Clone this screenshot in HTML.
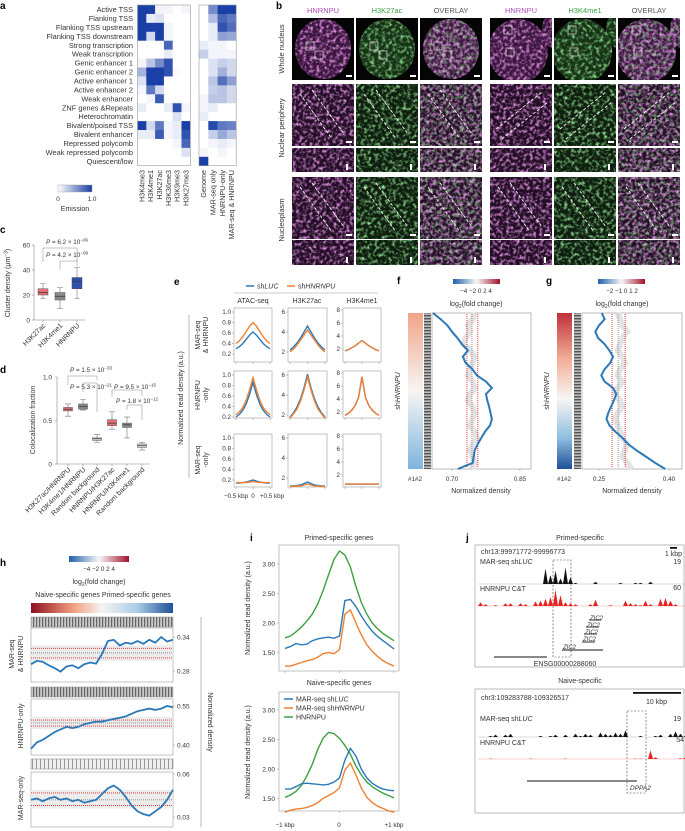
<!DOCTYPE html>
<html><head><meta charset="utf-8"><style>
html,body{margin:0;padding:0;background:#fff}
svg{display:block;font-family:"Liberation Sans",sans-serif}
text{fill:#333}
.pl{font-weight:bold;font-size:10px;fill:#000}
.t{font-size:7px}
.ts{font-size:6.3px}
</style></head><body>
<svg id="fig" width="685" height="831" viewBox="0 0 685 831" xmlns="http://www.w3.org/2000/svg">
<defs>
<linearGradient id="gEm" x1="0" x2="1"><stop offset="0" stop-color="#fff"/><stop offset="1" stop-color="#1a3fa6"/></linearGradient>
<linearGradient id="gFC" x1="0" x2="1"><stop offset="0" stop-color="#1f5fa8"/><stop offset="0.5" stop-color="#f7f7f7"/><stop offset="1" stop-color="#a3122a"/></linearGradient>
<linearGradient id="gH" x1="0" x2="1"><stop offset="0" stop-color="#8e1020"/><stop offset="0.3" stop-color="#f0a080"/><stop offset="0.5" stop-color="#f7f4f2"/><stop offset="0.75" stop-color="#a8cce4"/><stop offset="1" stop-color="#1f4f98"/></linearGradient>
<linearGradient id="gF" x1="0" y1="0" x2="0" y2="1"><stop offset="0" stop-color="#f2a488"/><stop offset="0.5" stop-color="#f7f5f4"/><stop offset="1" stop-color="#7fb4dc"/></linearGradient>
<linearGradient id="gG" x1="0" y1="0" x2="0" y2="1"><stop offset="0" stop-color="#c0303a"/><stop offset="0.3" stop-color="#f2b09a"/><stop offset="0.55" stop-color="#f7f5f4"/><stop offset="0.8" stop-color="#8fbfe0"/><stop offset="1" stop-color="#1f4f98"/></linearGradient>
<pattern id="bc" width="3" height="3" patternUnits="userSpaceOnUse"><rect width="3" height="3" fill="#bbb"/><rect width="3" height="1.4" fill="#555"/></pattern>
<pattern id="bcv" width="3" height="3" patternUnits="userSpaceOnUse"><rect width="3" height="3" fill="#c8c8c8"/><rect width="1.2" height="3" fill="#666"/></pattern>
<pattern id="bcv2" width="4" height="3" patternUnits="userSpaceOnUse"><rect width="4" height="3" fill="#eee"/><rect width="1" height="3" fill="#999"/></pattern>
<filter id="fm" x="0" y="0" width="1" height="1"><feTurbulence type="fractalNoise" baseFrequency="0.3" numOctaves="2" seed="2" result="n"/><feColorMatrix in="n" type="matrix" values="0 0 0 0 0.78 0 0 0 0 0.3 0 0 0 0 0.8 2.6 0 0 0 -1.15" result="c"/><feComposite in="c" in2="SourceGraphic" operator="in"/></filter>
<filter id="fg" x="0" y="0" width="1" height="1"><feTurbulence type="fractalNoise" baseFrequency="0.28" numOctaves="2" seed="7" result="n"/><feColorMatrix in="n" type="matrix" values="0 0 0 0 0.3 0 0 0 0 0.78 0 0 0 0 0.3 2.6 0 0 0 -1.2" result="c"/><feComposite in="c" in2="SourceGraphic" operator="in"/></filter>
</defs>

<text class="pl" x="0" y="9">a</text>
<text class="pl" x="276" y="9">b</text>
<text class="pl" x="0" y="233">c</text>
<text class="pl" x="0" y="373">d</text>
<text class="pl" x="174" y="285">e</text>
<text class="pl" x="397" y="284">f</text>
<text class="pl" x="546" y="284">g</text>
<text class="pl" x="0" y="566">h</text>
<text class="pl" x="250" y="541">i</text>
<text class="pl" x="466" y="541">j</text>

<g id="pa">
<rect x="58" y="185" width="34" height="7" fill="url(#gEm)" stroke="#999" stroke-width="0.4"/>
<text class="ts" x="58" y="201" text-anchor="middle">0</text>
<text class="ts" x="92" y="201" text-anchor="middle">1.0</text>
<text class="t" x="75" y="211" text-anchor="middle">Emission</text>
</g>
<g id="pb"></g>
<g id="pc">
<text class="t" transform="translate(10,283) rotate(-90)" text-anchor="middle">Cluster density (μm<tspan dy="-2.5" font-size="5">−3</tspan><tspan dy="2.5">)</tspan></text>
<text class="ts" x="46" y="244"><tspan font-style="italic">P</tspan> = 6.2 × 10<tspan dy="-2.5" font-size="4.5">−06</tspan></text>
<text class="ts" x="46" y="257"><tspan font-style="italic">P</tspan> = 4.2 × 10<tspan dy="-2.5" font-size="4.5">−09</tspan></text>
<path d="M43,262V248H77V262M60,270V261H77V266" fill="none" stroke="#888" stroke-width="0.5"/>
</g>
<g id="pd">
<text class="t" transform="translate(35,420) rotate(-90)" text-anchor="middle">Colocalization fraction</text>
<text class="ts" x="70" y="372"><tspan font-style="italic">P</tspan> = 1.5 × 10<tspan dy="-2.5" font-size="4.5">−33</tspan></text>
<text class="ts" x="70" y="389"><tspan font-style="italic">P</tspan> = 5.3 × 10<tspan dy="-2.5" font-size="4.5">−21</tspan></text>
<text class="ts" x="114" y="389"><tspan font-style="italic">P</tspan> = 9.5 × 10<tspan dy="-2.5" font-size="4.5">−15</tspan></text>
<text class="ts" x="116" y="403"><tspan font-style="italic">P</tspan> = 1.8 × 10<tspan dy="-2.5" font-size="4.5">−12</tspan></text>
<path d="M68,385V376H97V380M83,392V383H97V412M112,397V390H142V396M127,410V405H142V420" fill="none" stroke="#888" stroke-width="0.5"/>
</g>
<g id="pe">
<line x1="246" y1="286" x2="254" y2="286" stroke="#2a78b8" stroke-width="1.5"/>
<text class="t" x="257" y="288.5">sh<tspan font-style="italic">LUC</tspan></text>
<line x1="287" y1="286" x2="295" y2="286" stroke="#f08030" stroke-width="1.5"/>
<text class="t" x="298" y="288.5">sh<tspan font-style="italic">HNRNPU</tspan></text>
<line x1="234" y1="293" x2="378" y2="293" stroke="#bbb" stroke-width="0.8"/>
<text class="t" x="253" y="303" text-anchor="middle">ATAC-seq</text>
<text class="t" x="307" y="303" text-anchor="middle">H3K27ac</text>
<text class="t" x="362" y="303" text-anchor="middle">H3K4me1</text>
<text class="t" transform="translate(183,398) rotate(-90)" text-anchor="middle">Normalized read density (a.u.)</text>
<line x1="189" y1="315" x2="189" y2="478" stroke="#888" stroke-width="0.6"/>
<text class="t" transform="translate(200,335) rotate(-90)" text-anchor="middle">MAR-seq</text>
<text class="t" transform="translate(208,335) rotate(-90)" text-anchor="middle">&amp; HNRNPU</text>
<text class="t" transform="translate(200,395) rotate(-90)" text-anchor="middle">HNRNPU</text>
<text class="t" transform="translate(208,395) rotate(-90)" text-anchor="middle">-only</text>
<text class="t" transform="translate(200,460) rotate(-90)" text-anchor="middle">MAR-seq</text>
<text class="t" transform="translate(208,460) rotate(-90)" text-anchor="middle">-only</text>
<text class="ts" x="236" y="498" text-anchor="middle">−0.5 kbp</text>
<text class="ts" x="253" y="498" text-anchor="middle">0</text>
<text class="ts" x="272" y="498" text-anchor="middle">+0.5 kbp</text>
</g>
<g id="pf">
<rect x="453" y="279" width="47" height="5" fill="url(#gFC)"/>
<text class="ts" x="476" y="293" text-anchor="middle">−4  −2  0  2  4</text>
<text class="t" x="476" y="306" text-anchor="middle">log<tspan dy="2" font-size="5">2</tspan><tspan dy="-2">(fold change)</tspan></text>
<rect x="408" y="313" width="15" height="156" fill="url(#gF)"/>
<rect x="424" y="313" width="7" height="156" fill="url(#bc)"/>
<rect x="432" y="313" width="99" height="156" fill="#fff" stroke="#aaa" stroke-width="0.8"/>
<text class="t" transform="translate(400,391) rotate(-90)" text-anchor="middle">sh<tspan font-style="italic">HNRNPU</tspan></text>
<text class="ts" x="415" y="481" text-anchor="middle">#1#2</text>
<text class="ts" x="452" y="481" text-anchor="middle">0.70</text>
<text class="ts" x="520" y="481" text-anchor="middle">0.85</text>
<text class="t" x="481" y="493" text-anchor="middle">Normalized density</text>
</g>
<g id="pg">
<rect x="598" y="279" width="47" height="5" fill="url(#gFC)"/>
<text class="ts" x="622" y="293" text-anchor="middle">−2  −1  0  1  2</text>
<text class="t" x="622" y="306" text-anchor="middle">log<tspan dy="2" font-size="5">2</tspan><tspan dy="-2">(fold change)</tspan></text>
<rect x="557" y="313" width="15" height="156" fill="url(#gG)"/>
<rect x="574" y="313" width="7" height="156" fill="url(#bc)"/>
<rect x="582" y="313" width="100" height="156" fill="#fff" stroke="#aaa" stroke-width="0.8"/>
<text class="t" transform="translate(549,391) rotate(-90)" text-anchor="middle">sh<tspan font-style="italic">HNRNPU</tspan></text>
<text class="ts" x="564" y="481" text-anchor="middle">#1#2</text>
<text class="ts" x="599" y="481" text-anchor="middle">0.25</text>
<text class="ts" x="669" y="481" text-anchor="middle">0.40</text>
<text class="t" x="632" y="493" text-anchor="middle">Normalized density</text>
</g>
<g id="ph">
<rect x="69" y="556" width="60" height="6" fill="url(#gFC)"/>
<text class="ts" x="99" y="571" text-anchor="middle">−4   −2   0   2   4</text>
<text class="t" x="99" y="584" text-anchor="middle">log<tspan dy="2" font-size="5">2</tspan><tspan dy="-2">(fold change)</tspan></text>
<text class="t" x="103" y="597" text-anchor="middle">Naive-specific genes Primed-specific genes</text>
<rect x="31" y="603" width="142" height="10" fill="url(#gH)"/>
<line x1="201" y1="617" x2="201" y2="827" stroke="#aaa" stroke-width="0.8"/>
<text class="t" transform="translate(208,722) rotate(90)" text-anchor="middle">Normalized density</text>
<text class="t" transform="translate(14,654) rotate(-90)" text-anchor="middle">MAR-seq</text>
<text class="t" transform="translate(23,654) rotate(-90)" text-anchor="middle">&amp; HNRNPU</text>
<text class="t" transform="translate(23,726) rotate(-90)" text-anchor="middle">HNRNPU-only</text>
<text class="t" transform="translate(23,798) rotate(-90)" text-anchor="middle">MAR-seq-only</text>
</g>
<g id="pi">
<text class="t" x="339" y="540" text-anchor="middle">Primed-specific genes</text>
<text class="t" x="339" y="685" text-anchor="middle">Naive-specific genes</text>
<text class="t" transform="translate(250,608) rotate(-90)" text-anchor="middle">Normalized read density (a.u.)</text>
<text class="t" transform="translate(250,752) rotate(-90)" text-anchor="middle">Normalized read density (a.u.)</text>
<text class="ts" x="285" y="827" text-anchor="middle">−1 kbp</text>
<text class="ts" x="339" y="827" text-anchor="middle">0</text>
<text class="ts" x="394" y="827" text-anchor="middle">+1 kbp</text>
<line x1="284" y1="699" x2="293" y2="699" stroke="#2a78b8" stroke-width="1.5"/>
<text class="t" x="296" y="701.5">MAR-seq sh<tspan font-style="italic">LUC</tspan></text>
<line x1="284" y1="708" x2="293" y2="708" stroke="#f08030" stroke-width="1.5"/>
<text class="t" x="296" y="710.5">MAR-seq sh<tspan font-style="italic">HNRNPU</tspan></text>
<line x1="284" y1="717" x2="293" y2="717" stroke="#3aa040" stroke-width="1.5"/>
<text class="t" x="296" y="719.5">HNRNPU</text>
</g>
<g id="pj">
<text class="t" x="580" y="540" text-anchor="middle">Primed-specific</text>
<rect x="475" y="545" width="209" height="122" fill="none" stroke="#aaa" stroke-width="0.8"/>
<text class="t" x="481" y="554">chr13:99971772-99996773</text>
<rect x="670" y="547" width="7" height="1.8" fill="#111"/>
<text class="t" x="682" y="556" text-anchor="end">1 kbp</text>
<text class="t" x="480" y="564">MAR-seq sh<tspan font-style="italic">LUC</tspan></text>
<text class="t" x="681" y="564" text-anchor="end">19</text>
<text class="t" x="480" y="591">HNRNPU C&amp;T</text>
<text class="t" x="681" y="590" text-anchor="end">60</text>
<rect x="553" y="560" width="18" height="97" fill="none" stroke="#444" stroke-width="0.6" stroke-dasharray="2,1.5"/>
<g stroke="#111" stroke-width="0.9">
<line x1="494" y1="657" x2="547" y2="657"/><line x1="562" y1="650" x2="603" y2="650"/>
<line x1="582" y1="642" x2="595" y2="642"/><line x1="584" y1="634" x2="597" y2="634"/><line x1="586" y1="627" x2="599" y2="627"/><line x1="589" y1="620" x2="601" y2="620"/>
</g>
<g class="ts" font-style="italic">
<text x="590" y="620" font-size="6">ZIC2</text><text x="587" y="627" font-size="6">ZIC2</text><text x="585" y="634" font-size="6">ZIC2</text><text x="583" y="641" font-size="6">ZIC2</text><text x="563" y="649" font-size="6">ZIC2</text>
</g>
<text class="t" x="565" y="666" text-anchor="middle">ENSG00000288060</text>
<text class="t" x="580" y="683" text-anchor="middle">Naive-specific</text>
<rect x="475" y="689" width="209" height="124" fill="none" stroke="#aaa" stroke-width="0.8"/>
<text class="t" x="481" y="700">chr3:109283788-109326517</text>
<rect x="633" y="692" width="48" height="1.8" fill="#111"/>
<text class="t" x="646" y="704">10 kbp</text>
<text class="t" x="480" y="721">MAR-seq sh<tspan font-style="italic">LUC</tspan></text>
<text class="t" x="681" y="721" text-anchor="end">19</text>
<text class="t" x="480" y="745">HNRNPU C&amp;T</text>
<text class="t" x="684" y="742" text-anchor="end">54</text>
<rect x="627" y="711" width="19" height="82" fill="none" stroke="#444" stroke-width="0.6" stroke-dasharray="2,1.5"/>
<line x1="527" y1="781" x2="637" y2="781" stroke="#111" stroke-width="0.9"/>
<text x="630" y="790" font-size="6.5" font-style="italic">DPPA2</text>
</g>
</svg>
<script>
const NS='http://www.w3.org/2000/svg';
function mk(tag, attrs, parent){const e=document.createElementNS(NS,tag);for(const k in attrs)e.setAttribute(k,attrs[k]);parent.appendChild(e);return e;}
function poly(xs,ys){return xs.map((x,i)=>(i?'L':'M')+x.toFixed(1)+','+ys[i].toFixed(1)).join('');}

/* ---------- panel a data ---------- */
const aStates=['Active TSS','Flanking TSS','Flanking TSS upstream','Flanking TSS downstream','Strong transcription','Weak transcription','Genic enhancer 1','Genic enhancer 2','Active enhancer 1','Active enhancer 2','Weak enhancer','ZNF genes &Repeats','Heterochromatin','Bivalent/poised TSS','Bivalent enhancer','Repressed polycomb','Weak repressed polycomb','Quiescent/low'];
const aMarks=['H3K4me3','H3K4me1','H3K27ac','H3K36me3','H3K9me3','H3K27me3'];
const aGroups=['Genome','MAR-seq only','HNRNPU-only','MAR-seq & HNRNPU'];
const aMarkVals=[[1,1,.05,.05,0,.05],[1,.1,.15,0,0,0],[1,1,1,.05,0,0],[1,.2,1,.05,0,0],[0,0,0,.8,0,0],[0,0,0,.1,0,0],[.05,.3,.6,.9,0,0],[.4,1,1,.9,.02,0],[.15,1,1,0,0,0],[.05,.7,.2,0,0,0],[0,.05,.85,0,0,0],[.1,0,0,.1,.9,.05],[0,0,0,0,.15,0],[1,.2,.7,.05,.1,1],[.1,.1,.85,.05,.1,.9],[0,0,0,0,.05,.8],[0,0,0,0,0,.15],[0,0,0,0,0,0]];
const aGroupVals=[[0,.6,1,1],[0,.35,.8,.7],[0,.1,.9,.75],[0,.1,.5,.45],[.1,.05,.05,0],[.25,.05,.05,.05],[0,.15,.25,.2],[0,.15,.4,.2],[0,.3,.75,.5],[0,.25,.3,.2],[.05,.3,.3,.2],[.05,.1,0,0],[.1,0,0,0],[0,.95,.7,.65],[0,.25,.45,.3],[0,.05,.1,.05],[.05,0,.05,0],[1,0,0,0]];
/* ---------- panel c/d data ---------- */
const cCats=['H3K27ac','H3K4me1','HNRNPU'];
const cStats=[[17,20,22,25,29],[9,16,19,22,26],[17,25,31,34,42]];
const dCats=['H3K27ac/HNRNPU','H3K4me1/HNRNPU','Random background','HNRNPU/H3K27ac','HNRNPU/H3K4me1','Random background'];
const dStats=[[0.55,0.61,0.63,0.65,0.69],[0.62,0.63,0.66,0.69,0.74],[0.25,0.27,0.29,0.30,0.34],[0.40,0.44,0.47,0.51,0.60],[0.30,0.42,0.45,0.47,0.54],[0.16,0.19,0.21,0.23,0.25]];
/* ---------- panel e data (11 points, -0.5..+0.5 kbp) ---------- */
const eLucAtac=[[0.30,0.34,0.40,0.48,0.56,0.62,0.56,0.48,0.40,0.34,0.30],[0.20,0.25,0.33,0.45,0.63,0.86,0.63,0.45,0.33,0.25,0.20],[0.14,0.14,0.15,0.16,0.18,0.20,0.18,0.16,0.15,0.14,0.14]];
const eKdAtac=[[0.40,0.45,0.53,0.63,0.73,0.80,0.73,0.63,0.53,0.45,0.40],[0.24,0.30,0.38,0.52,0.72,0.95,0.72,0.52,0.38,0.30,0.24],[0.15,0.15,0.15,0.15,0.16,0.17,0.16,0.15,0.15,0.15,0.15]];
const eLucK27=[[2.2,2.5,2.9,3.4,4.0,4.6,4.0,3.4,2.9,2.5,2.2],[1.8,2.2,2.8,3.6,4.7,6.1,4.7,3.6,2.8,2.2,1.8],[1.2,1.2,1.25,1.3,1.45,1.6,1.45,1.3,1.25,1.2,1.2]];
const eKdK27=[[2.0,2.3,2.7,3.2,3.7,4.2,3.7,3.2,2.7,2.3,2.0],[1.7,2.1,2.6,3.4,4.5,5.8,4.5,3.4,2.6,2.1,1.7],[1.15,1.15,1.2,1.2,1.3,1.4,1.3,1.2,1.2,1.15,1.15]];
const eLucK4=[[1.7,1.9,2.2,2.5,2.9,3.3,2.9,2.5,2.2,1.9,1.7],[1.5,1.8,2.3,3.0,4.3,7.4,4.3,3.0,2.3,1.8,1.5],[0.6,0.6,0.6,0.6,0.6,0.6,0.6,0.6,0.6,0.6,0.6]];
const eKdK4=[[1.7,1.9,2.2,2.5,2.9,3.3,2.9,2.5,2.2,1.9,1.7],[1.5,1.8,2.3,3.0,4.3,7.4,4.3,3.0,2.3,1.8,1.5],[0.6,0.6,0.6,0.6,0.6,0.6,0.6,0.6,0.6,0.6,0.6]];
const eTicks=[[1.0,0.8,0.6,0.4,0.2],[6,4,2],[8,6,4,2]];
/* ---------- panel f/g data (top→bottom) ---------- */
const fBlue=[0.658,0.675,0.69,0.70,0.712,0.722,0.735,0.724,0.73,0.745,0.755,0.775,0.788,0.775,0.778,0.782,0.785,0.788,0.784,0.773,0.765,0.757,0.75,0.748,0.746,0.713];
const fGrey=[0.75,0.745,0.735,0.74,0.73,0.725,0.74,0.75,0.745,0.74,0.735,0.745,0.75,0.74,0.735,0.745,0.75,0.745,0.74,0.75,0.755,0.745,0.74,0.745,0.75,0.745];
const fRefs=[0.733,0.744,0.757];
const gBlue=[0.256,0.262,0.250,0.242,0.248,0.262,0.272,0.280,0.274,0.262,0.255,0.262,0.280,0.287,0.282,0.276,0.270,0.266,0.272,0.285,0.300,0.312,0.330,0.350,0.370,0.392];
const gGrey=[0.29,0.295,0.30,0.31,0.30,0.295,0.29,0.30,0.305,0.295,0.29,0.30,0.29,0.285,0.295,0.30,0.29,0.285,0.29,0.295,0.30,0.31,0.305,0.30,0.31,0.32];
const gRefs=[0.278,0.291,0.306];
/* ---------- panel h data (left→right) ---------- */
const h1Blue=[0.292,0.298,0.296,0.29,0.285,0.279,0.288,0.29,0.285,0.292,0.295,0.293,0.31,0.333,0.335,0.325,0.33,0.328,0.333,0.328,0.335,0.33,0.34,0.332,0.335];
const h2Blue=[0.385,0.41,0.42,0.435,0.45,0.46,0.47,0.465,0.47,0.48,0.485,0.49,0.49,0.495,0.50,0.505,0.51,0.52,0.53,0.535,0.54,0.535,0.54,0.55,0.545];
const h3Blue=[0.042,0.043,0.041,0.043,0.044,0.042,0.043,0.041,0.042,0.040,0.041,0.042,0.046,0.050,0.052,0.049,0.044,0.038,0.034,0.032,0.031,0.034,0.037,0.042,0.049];
const hRefs=[[0.303,0.312,0.32],[0.473,0.485,0.496],[0.038,0.042,0.0468]];
const hTicks=[[0.34,0.28],[0.55,0.40],[0.06,0.03]];
/* ---------- panel i data (21 points, -1..+1 kbp) ---------- */
const iTopLuc=[1.57,1.60,1.65,1.63,1.64,1.70,1.73,1.75,1.76,1.74,1.78,2.38,2.40,2.28,2.12,1.98,1.86,1.77,1.70,1.63,1.56];
const iTopKd=[1.27,1.27,1.30,1.33,1.36,1.38,1.42,1.48,1.50,1.48,1.55,2.15,2.22,2.0,1.8,1.63,1.52,1.43,1.36,1.31,1.27];
const iTopHn=[1.75,1.78,1.85,1.93,2.03,2.15,2.32,2.55,2.82,3.08,3.22,3.15,2.95,2.62,2.35,2.15,2.0,1.9,1.82,1.76,1.70];
const iBotLuc=[1.66,1.66,1.70,1.75,1.76,1.75,1.74,1.73,1.74,1.78,1.85,2.15,2.35,2.22,2.00,1.85,1.76,1.70,1.66,1.64,1.63];
const iBotKd=[1.27,1.30,1.32,1.33,1.35,1.38,1.43,1.50,1.55,1.60,1.68,1.98,2.10,1.90,1.68,1.52,1.43,1.37,1.33,1.29,1.27];
const iBotHn=[1.52,1.56,1.62,1.72,1.88,2.08,2.33,2.52,2.62,2.60,2.52,2.40,2.25,2.05,1.90,1.78,1.70,1.64,1.59,1.55,1.51];
const iTicks=['3.00','2.50','2.00','1.50'];
/* ---------- panel j data (42 bins) ---------- */
const jMar1=[0,0,0,0,0,0,0,0,0,0,0,0,0,14,8,12,5,15,6,1,0,0,0,2,0,0,0,0,1,0,0,1,1,0,2,0,0,0,0,0,0,0];
const jCT1=[12,6,0,3,0,9,9,0,9,6,0,15,18,24,30,54,36,12,9,6,0,0,6,21,0,0,3,0,0,18,9,6,3,18,6,0,24,27,18,6,0,0];
const jMar2=[0,0,1,2,0,2,3,0,0,0,0,0,1,0,1,2,0,2,0,3,1,3,2,0,4,3,2,4,3,6,0,0,1,0,0,1,2,0,3,5,3,1];
const jCT2=[0,0,1,0,0,0,0,0,0,0,1,0,0,0,0,0,0,1,0,0,0,0,0,0,0,0,0,0,0,0,0,1,1,0,25,5,0,0,0,0,2,5];

const BLUE='#2a78b8',ORANGE='#f08030',GREEN='#3aa040',RED='#e02020';

/* ===== panel a ===== */
(function(){
const g=document.getElementById('pa');
const top=5,rh=8.93,lx=137.5,lw=8.8,rx=199,rw=9.3;
function col(v){const r=Math.round(255+(26-255)*v),gg=Math.round(255+(63-255)*v),b=Math.round(255+(166-255)*v);return `rgb(${r},${gg},${b})`;}
aStates.forEach((s,i)=>{
  const t=mk('text',{x:133,y:top+(i+0.5)*rh+2.6,'text-anchor':'end','font-size':'7.4'},g);
  t.textContent=s;
  
  
  aMarkVals[i].forEach((v,j)=>{
    const c=mk('rect',{x:lx+j*lw,y:top+i*rh,width:lw+0.3,height:rh+0.3,fill:col(v)},g);
    
    
  });
  aGroupVals[i].forEach((v,j)=>{
    const c=mk('rect',{x:rx+j*rw,y:top+i*rh,width:rw+0.3,height:rh+0.3,fill:col(v)},g);
    
    
  });
});
const f1=mk('rect',{x:lx,y:top,width:lw*6,height:rh*18,fill:'none',stroke:'#999','stroke-width':0.6},g);


const f2=mk('rect',{x:rx,y:top,width:rw*4,height:rh*18,fill:'none',stroke:'#999','stroke-width':0.6},g);


aMarks.forEach((m,j)=>{
  const x=lx+(j+0.5)*lw+2.5;
  const t=mk('text',{transform:`translate(${x},170) rotate(-90)`,'text-anchor':'end','font-size':'7.2'},g);
  t.textContent=m;
  
  
});
aGroups.forEach((m,j)=>{
  const x=rx+(j+0.5)*rw+2.5;
  const t=mk('text',{transform:`translate(${x},170) rotate(-90)`,'text-anchor':'end','font-size':'7.2'},g);
  t.textContent=m;
  
  
});
})();

/* ===== panel b ===== */
(function(){
const g=document.getElementById('pb');
const cx=[292,356,420,490,554,618],cw=62;
const rows=[[18,62],[84,62],[148,24],[177,62],[240,25]];
const heads=['HNRNPU','H3K27ac','OVERLAY','HNRNPU','H3K4me1','OVERLAY'];
const hc=['#b050b8','#3aa048','#555','#b050b8','#3aa048','#555'];
heads.forEach((h,c)=>{
  const t=mk('text',{x:cx[c]+31,y:13,'text-anchor':'middle','font-size':'7.5',style:'fill:'+hc[c]},g);
  t.textContent=h;
  
  
});
[['Whole nucleus',49],['Nuclear periphery',128],['Nucleoplasm',220]].forEach(r=>{
  const t=mk('text',{transform:`translate(284,${r[1]}) rotate(-90)`,'text-anchor':'middle','font-size':'7.5'},g);
  t.textContent=r[0];
  
  
});
const defs=document.querySelector('defs');
let k=0;
cx.forEach((x,c)=>{
  rows.forEach((r,ri)=>{
    const [y,h]=r;
    const cp=mk('clipPath',{id:'cp'+k},defs);
    mk('rect',{x:x,y:y,width:cw,height:h},cp);
    const gg=mk('g',{'clip-path':`url(#cp${k})`},g);
    
    
    k++;
    mk('rect',{x:x,y:y,width:cw,height:h,fill:'#050505'},gg);
    const type=c%3;
    const shapes=[];
    if(ri===0){
      if(c<3){shapes.push(['ellipse',{cx:x+31,cy:y+31,rx:28,ry:30}]);}
      else{shapes.push(['ellipse',{cx:x+28,cy:y+33,rx:30,ry:32}]);shapes.push(['ellipse',{cx:x+64,cy:y+12,rx:12,ry:18}]);}
    } else shapes.push(['rect',{x:x,y:y,width:cw,height:h}]);
    const dim=ri===0?0.55:0.3;
    shapes.forEach(s=>{
      const bm=Object.assign({},s[1]);
      if(type===0||type===2){mk(s[0],Object.assign({fill:'#6a2470','fill-opacity':dim},bm),gg);mk(s[0],Object.assign({fill:'#fff',filter:'url(#fm)'},bm),gg);}
      if(type===1){mk(s[0],Object.assign({fill:'#245a24','fill-opacity':dim},bm),gg);}
      if(type>=1){mk(s[0],Object.assign({fill:'#fff',filter:'url(#fg)',opacity:type===2?0.7:1},bm),gg);}
    });
    if(ri===0){
      const sq=c<3?[[x+14,y+24],[x+23,y+33]]:[[x+14,y+8],[x+16,y+30]];
      sq.forEach(p=>mk('rect',{x:p[0],y:p[1],width:8,height:8,fill:'none',stroke:'#ddd','stroke-width':0.7},gg));
    }
    if(ri===1||ri===3){
      const d=(c<3||ri===3)?[[x+8,y+10,x+40,y+55],[x+20,y+6,x+52,y+50]]:[[x+6,y+45,x+52,y+8],[x+12,y+55,x+58,y+18]];
      d.forEach(l=>mk('line',{x1:l[0],y1:l[1],x2:l[2],y2:l[3],stroke:'#fff','stroke-width':0.9,'stroke-dasharray':'3,2'},gg));
    }
    mk('rect',{x:x+cw-8,y:y+h-(ri===2||ri===4?8:5),width:ri===2||ri===4?2:6,height:ri===2||ri===4?6:2,fill:'#fff'},gg);
  });
});
})();

/* ===== panel c ===== */
(function(){
const g=document.getElementById('pc');
const yC=v=>320-v*1.25, xs=[43,60,77], fills=['#e8707a','#8a8a8a','#3050b0'];
const ax=mk('path',{d:'M34,245V320H85',fill:'none',stroke:'#888','stroke-width':0.6},g);


[0,20,40,60].forEach(t=>{
  mk('line',{x1:32,x2:34,y1:yC(t),y2:yC(t),stroke:'#888','stroke-width':0.6},g);
  const tx=mk('text',{x:30,y:yC(t)+2.3,'text-anchor':'end','font-size':'6.5'},g);
  tx.textContent=t;
  
  
});
cStats.forEach((s,i)=>{
  const x=xs[i];
  const w=mk('path',{d:`M${x},${yC(s[0])}V${yC(s[1])}M${x},${yC(s[3])}V${yC(s[4])}M${x-3},${yC(s[0])}H${x+3}M${x-3},${yC(s[4])}H${x+3}`,stroke:'#777','stroke-width':0.6},g);
  
  
  const b=mk('rect',{x:x-5,y:yC(s[3]),width:10,height:yC(s[1])-yC(s[3]),fill:fills[i],stroke:'#555','stroke-width':0.5},g);
  
  
  const m=mk('line',{x1:x-5,x2:x+5,y1:yC(s[2]),y2:yC(s[2]),stroke:'#333','stroke-width':0.7},g);
  
  
  mk('line',{x1:x,x2:x,y1:320,y2:322,stroke:'#888','stroke-width':0.6},g);
  const t=mk('text',{transform:`translate(${x+3},326) rotate(-45)`,'text-anchor':'end','font-size':'7'},g);
  t.textContent=cCats[i];
  
  
});
})();

/* ===== panel d ===== */
(function(){
const g=document.getElementById('pd');
const yD=v=>464-v*87, xs=[68,83,97,112,127,142], fills=['#e8707a','#8a8a8a','#d8d8d8','#e8707a','#8a8a8a','#d8d8d8'];
const ax=mk('path',{d:'M57,377V464H150',fill:'none',stroke:'#888','stroke-width':0.6},g);


[0,0.5,1.0].forEach(t=>{
  mk('line',{x1:55,x2:57,y1:yD(t),y2:yD(t),stroke:'#888','stroke-width':0.6},g);
  const tx=mk('text',{x:52,y:yD(t)+2.3,'text-anchor':'end','font-size':'6.5'},g);
  tx.textContent=t===0?'0':t.toFixed(1);
  
  
});
dStats.forEach((s,i)=>{
  const x=xs[i];
  const w=mk('path',{d:`M${x},${yD(s[0])}V${yD(s[1])}M${x},${yD(s[3])}V${yD(s[4])}M${x-3},${yD(s[0])}H${x+3}M${x-3},${yD(s[4])}H${x+3}`,stroke:'#777','stroke-width':0.6},g);
  
  
  const b=mk('rect',{x:x-4.5,y:yD(s[3]),width:9,height:yD(s[1])-yD(s[3]),fill:fills[i],stroke:'#555','stroke-width':0.5},g);
  
  
  const m=mk('line',{x1:x-4.5,x2:x+4.5,y1:yD(s[2]),y2:yD(s[2]),stroke:'#333','stroke-width':0.7},g);
  
  
  mk('line',{x1:x,x2:x,y1:464,y2:466,stroke:'#888','stroke-width':0.6},g);
  const t=mk('text',{transform:`translate(${x+3},470) rotate(-45)`,'text-anchor':'end','font-size':'7'},g);
  t.textContent=dCats[i];
  
  
});
})();

/* ===== panel e ===== */
(function(){
const g=document.getElementById('pe');
const cols=[[234,272],[288,327],[343,381]];
const tops=[308,371,434],bots=[362,418,487];
const ys=[(v,t)=>t+4+(1.0-v)*52.5,(v,t)=>t+4+(6-v)*10,(v,t)=>t+2+(8-v)*6.5];
const luc=[eLucAtac,eLucK27,eLucK4],kd=[eKdAtac,eKdK27,eKdK4];
cols.forEach((c,ci)=>{
  tops.forEach((t,ri)=>{
    const fr=mk('rect',{x:c[0],y:t,width:c[1]-c[0],height:bots[ri]-t,fill:'#fff',stroke:'#aaa','stroke-width':0.7},g);
    
    
    eTicks[ci].forEach(v=>{
      const y=ys[ci](v,t);
      if(y<t||y>bots[ri])return;
      mk('line',{x1:c[0]-2,x2:c[0],y1:y,y2:y,stroke:'#888','stroke-width':0.5},g);
      const tx=mk('text',{x:c[0]-3,y:y+2.2,'text-anchor':'end','font-size':'6.3'},g);
      tx.textContent=ci===0?v.toFixed(1):v;
      
      
    });
    [0,0.5,1].forEach(f=>mk('line',{x1:c[0]+2+f*(c[1]-c[0]-4),x2:c[0]+2+f*(c[1]-c[0]-4),y1:bots[ri],y2:bots[ri]+2,stroke:'#888','stroke-width':0.5},g));
    const xsArr=luc[ci][ri].map((_,i)=>c[0]+2+i/10*(c[1]-c[0]-4));
    const lb=mk('path',{d:poly(xsArr,luc[ci][ri].map(v=>ys[ci](v,t))),fill:'none',stroke:BLUE,'stroke-width':1.4},g);
    
    
    const lo=mk('path',{d:poly(xsArr,kd[ci][ri].map(v=>ys[ci](v,t))),fill:'none',stroke:ORANGE,'stroke-width':1.4},g);
    
    
  });
});
})();

/* ===== panels f,g ===== */
function density(gid,x0,k,v0,left,right,blue,grey,refs,prefix){
  const g=document.getElementById(gid);
  const xv=v=>Math.max(left,Math.min(right,x0+(v-v0)*k));
  const yv=i=>313+i*(156/(blue.length-1));
  const idx=blue.map((_,i)=>yv(i));
  const gl=mk('path',{d:poly(grey.map(xv),idx),fill:'none',stroke:'#e3e3e3','stroke-width':6},g);
  
  
  refs.forEach((r,i)=>{
    const l=mk('line',{x1:xv(r),x2:xv(r),y1:314,y2:468,stroke:i===1?'#888':RED,'stroke-width':0.9,'stroke-dasharray':'1,1'},g);
    
    
  });
  const bl=mk('path',{d:poly(blue.map(xv),idx),fill:'none',stroke:BLUE,'stroke-width':2},g);
  
  
  [x0,x0+0.15*k].forEach(x=>mk('line',{x1:x,x2:x,y1:469,y2:471,stroke:'#888','stroke-width':0.5},g));
}
density('pf',452,453,0.70,433,530,fBlue,fGrey,fRefs,'f');
density('pg',599,467,0.25,583,681,gBlue,gGrey,gRefs,'g');

/* ===== panel h ===== */
(function(){
const g=document.getElementById('ph');
const panels=[{bt:617,pt:628,pb:682,series:h1Blue,t:[637,671]},{bt:687,pt:699,pb:755,series:h2Blue,t:[706,745]},{bt:759,pt:772,pb:827,series:h3Blue,t:[774,817]}];
panels.forEach((p,i)=>{
  const bcr=mk('rect',{x:31,y:p.bt,width:142,height:10,fill:i===2?'url(#bcv2)':'url(#bcv)',stroke:'#888','stroke-width':0.5},g);
  
  
  const fr=mk('rect',{x:31,y:p.pt,width:142,height:p.pb-p.pt,fill:'#fff',stroke:'#aaa','stroke-width':0.7},g);
  
  
  const [a,b]=hTicks[i];
  const yv=v=>p.t[0]+(v-a)/(b-a)*(p.t[1]-p.t[0]);
  const xs=p.series.map((_,j)=>31+j*142/(p.series.length-1));
  mk('rect',{x:31,y:yv(hRefs[i][2])-3,width:142,height:yv(hRefs[i][0])-yv(hRefs[i][2])+6,fill:'#ececec'},g);
  hRefs[i].forEach((r,j)=>{
    const l=mk('line',{x1:31,x2:173,y1:yv(r),y2:yv(r),stroke:j===1?'#888':RED,'stroke-width':0.9,'stroke-dasharray':'1,1'},g);
    
    
  });
  const bl=mk('path',{d:poly(xs,p.series.map(yv)),fill:'none',stroke:BLUE,'stroke-width':1.8},g);
  
  
  hTicks[i].forEach(v=>{
    mk('line',{x1:173,x2:175,y1:yv(v),y2:yv(v),stroke:'#888','stroke-width':0.5},g);
    const tx=mk('text',{x:177,y:yv(v)+2.3,'font-size':'6.5'},g);
    tx.textContent=v.toFixed(2);
    
    
  });
});
})();

/* ===== panel i ===== */
(function(){
const g=document.getElementById('pi');
const boxes=[{t:545,b:671,y3:564,lines:[iTopHn,iTopLuc,iTopKd]},{t:692,b:811,y3:710,lines:[iBotHn,iBotLuc,iBotKd]}];
const cols=[GREEN,BLUE,ORANGE],names=['i-line-hnrnpu','i-line-shluc','i-line-shhnrnpu'];
const xv=x=>339.5+x*54.5;
boxes.forEach((bx,bi)=>{
  const fr=mk('rect',{x:279,y:bx.t,width:120,height:bx.b-bx.t,fill:'none',stroke:'#aaa','stroke-width':0.7},g);
  
  
  const yv=v=>bx.y3+(3.0-v)*59;
  iTicks.forEach(s=>{
    const v=parseFloat(s);
    mk('line',{x1:277,x2:279,y1:yv(v),y2:yv(v),stroke:'#888','stroke-width':0.5},g);
    const tx=mk('text',{x:275,y:yv(v)+2.3,'text-anchor':'end','font-size':'6.5'},g);
    tx.textContent=s;
    
    
  });
  [-1,0,1].forEach(x=>mk('line',{x1:xv(x),x2:xv(x),y1:bx.b,y2:bx.b+2,stroke:'#888','stroke-width':0.5},g));
  bx.lines.forEach((arr,li)=>{
    const xs=arr.map((_,j)=>xv(-1+j*0.1));
    const l=mk('path',{d:poly(xs,arr.map(yv)),fill:'none',stroke:cols[li],'stroke-width':1.4},g);
    
    
  });
});
})();

/* ===== panel j ===== */
(function(){
const g=document.getElementById('pj');
const x0=478,bw=5;
function track(arr,base,scale,color,name){
  const bl=mk('line',{x1:x0,x2:x0+arr.length*bw,y1:base,y2:base,stroke:color==='#111'?'#bbb':'#f4a0a0','stroke-width':0.5},g);
  
  
  arr.forEach((v,i)=>{
    if(!v)return;
    const h=v*scale;
    const p=mk('path',{d:`M${x0+i*bw},${base}L${x0+i*bw+bw/2},${base-h}L${x0+i*bw+bw},${base}Z`,fill:color},g);
    
    
  });
}
track(jMar1,584,1.1,'#111','j-mar-track-1');
track(jCT1,606,0.3,'#e82020','j-ct-track-1');
track(jMar2,737,1.1,'#111','j-mar-track-2');
track(jCT2,759,0.35,'#e82020','j-ct-track-2');
})();
</script>
</body></html>
